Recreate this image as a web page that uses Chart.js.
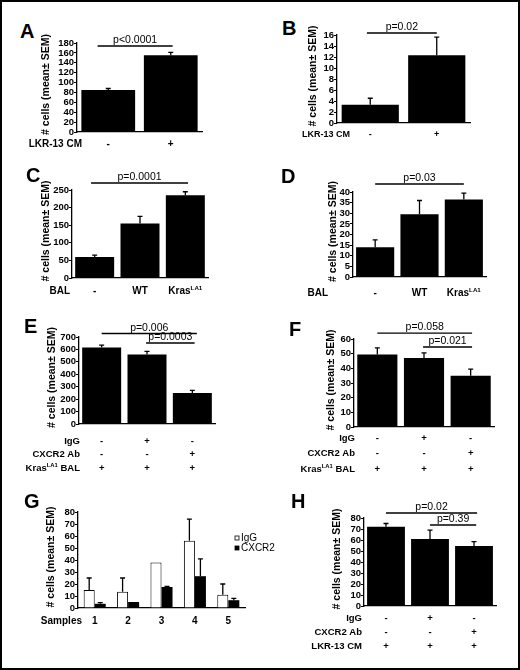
<!DOCTYPE html>
<html>
<head>
<meta charset="utf-8">
<script src="https://cdn.jsdelivr.net/npm/chart.js@4.4.1/dist/chart.umd.min.js"></script>
<style>
  body { margin: 0; background: #fff; }
  #fig { position: relative; width: 520px; height: 670px; overflow: hidden; }
  #frame { position: absolute; left: 0; top: 0; width: 520px; height: 670px; box-sizing: border-box; border: 2px solid #000; }
  .letter { position: absolute; font: bold 20px "Liberation Sans", Arial, sans-serif; line-height: 20px; }
  canvas { position: absolute; }
</style>
</head>
<body>
<div id="fig"><div id="frame"></div></div>
<script>
const FONT = '"Liberation Sans", Arial, sans-serif';

// data
const aCats = ['-', '+'];
const aMean = [85, 155];
const aSem = [3, 6];

const bCats = ['-', '+'];
const bMean = [3.3, 12.3];
const bSem = [1.2, 3.3];

const cCats = ['-', 'WT', 'Kras{LA1}'];
const cMean = [60, 155, 235];
const cSem = [5, 20, 10];

const dCats = ['-', 'WT', 'Kras{LA1}'];
const dMean = [14, 29.5, 36.5];
const dSem = [3.5, 6.5, 3];

const eIgG = ['-', '+', '-'];
const eCxcr2 = ['-', '-', '+'];
const eKras = ['+', '+', '+'];
const eMean = [615, 560, 250];
const eSem = [20, 25, 20];

const fIgG = ['-', '+', '-'];
const fCxcr2 = ['-', '-', '+'];
const fKras = ['+', '+', '+'];
const fMean = [49.5, 47, 35];
const fSem = [4.5, 3.5, 4.5];

const gSamples = ['1', '2', '3', '4', '5'];
const gIgG = [15, 13.5, 38, 56, 11];
const gIgGSem = [10, 11.5, 0, 18, 9];
const gCxcr2 = [3.5, 5, 17.5, 26.5, 6.5];
const gCxcr2Sem = [1, 0, 0.5, 14.5, 1.5];

const hIgG = ['-', '+', '-'];
const hCxcr2 = ['-', '-', '+'];
const hLkr = ['+', '+', '+'];
const hMean = [72, 61, 54.5];
const hSem = [3, 8, 4];

// text with {..} parts drawn as superscript
function drawRich(ctx, text, x, y, align, size, weight) {
  const parts = text.split(/(\{[^}]*\})/).filter(Boolean)
    .map(t => t[0] === '{' ? { t: t.slice(1, -1), sup: true } : { t, sup: false });
  const font = s => weight + ' ' + s + 'px ' + FONT;
  let w = 0;
  parts.forEach(p => {
    ctx.font = font(p.sup ? size * 0.62 : size);
    p.w = ctx.measureText(p.t).width;
    w += p.w;
  });
  let cx = align === 'right' ? x - w : align === 'center' ? x - w / 2 : x;
  ctx.textAlign = 'left';
  ctx.textBaseline = 'middle';
  parts.forEach(p => {
    ctx.font = font(p.sup ? size * 0.62 : size);
    ctx.fillText(p.t, cx, p.sup ? y - size * 0.3 : y);
    cx += p.w;
  });
}

const errorBars = {
  id: 'errorBars',
  afterDatasetsDraw(chart) {
    const ctx = chart.ctx, ys = chart.scales.y;
    ctx.save();
    ctx.strokeStyle = '#000';
    ctx.lineWidth = 1.3;
    chart.data.datasets.forEach((ds, i) => {
      chart.getDatasetMeta(i).data.forEach((bar, j) => {
        const s = ds.sem[j];
        if (!s) return;
        const top = ys.getPixelForValue(ds.data[j] + s);
        ctx.beginPath();
        ctx.moveTo(bar.x, bar.y);
        ctx.lineTo(bar.x, top);
        ctx.moveTo(bar.x - 2.5, top);
        ctx.lineTo(bar.x + 2.5, top);
        ctx.stroke();
      });
    });
    ctx.restore();
  }
};

function annotate(p, left, top) {
  return {
    id: 'annotate',
    afterDraw(chart) {
      const ctx = chart.ctx, xs = chart.scales.x, ys = chart.scales.y, area = chart.chartArea;
      ctx.save();
      ctx.fillStyle = '#000';
      ctx.strokeStyle = '#000';

      ctx.save();
      ctx.translate(p.titleX - left, (area.top + area.bottom) / 2 - 3);
      ctx.rotate(-Math.PI / 2);
      ctx.font = 'bold 10.5px ' + FONT;
      ctx.textAlign = 'center';
      ctx.textBaseline = 'middle';
      ctx.fillText('# cells (mean\u00b1 SEM)', 0, 0);
      ctx.restore();

      p.rows.forEach(r => {
        const ry = area.bottom + r.dy;
        drawRich(ctx, r.name, p.nameX - left, ry, 'right', p.rowFont, 'bold');
        r.vals.forEach((v, i) => drawRich(ctx, v, xs.getPixelForValue(i), ry, 'center', p.rowFont, 'bold'));
      });

      (p.pvals || []).forEach(pv => {
        const py = ys.getPixelForValue(pv.y);
        const x1 = xs.getPixelForValue(pv.from), x2 = xs.getPixelForValue(pv.to);
        ctx.lineWidth = 1.4;
        ctx.beginPath();
        ctx.moveTo(x1, py);
        ctx.lineTo(x2, py);
        ctx.stroke();
        ctx.font = '10.5px ' + FONT;
        ctx.textAlign = 'center';
        ctx.textBaseline = 'bottom';
        ctx.fillText(pv.text, (x1 + x2) / 2, py - 0.5);
      });

      if (p.legend) {
        chart.data.datasets.forEach((ds, i) => {
          const lx = p.legend.x - left, ly = p.legend.y - top + i * p.legend.dy;
          ctx.fillStyle = ds.backgroundColor;
          ctx.fillRect(lx - 2, ly - 2, 4, 4);
          ctx.lineWidth = 0.8;
          ctx.strokeRect(lx - 2, ly - 2, 4, 4);
          ctx.fillStyle = '#000';
          ctx.font = '10px ' + FONT;
          ctx.textAlign = 'left';
          ctx.textBaseline = 'middle';
          ctx.fillText(ds.label, lx + 4, ly);
        });
      }
      ctx.restore();
    }
  };
}

const black = (data, sem) => ({ data, sem, backgroundColor: '#000' });

const panels = [
  { letter: 'A', lx: 20, ly: 21, area: [77, 43, 202, 132], yMax: 180, yStep: 20, titleX: 46,
    labels: aCats, datasets: [black(aMean, aSem)], nameX: 82, rowFont: 10,
    rows: [{ name: 'LKR-13 CM', vals: aCats, dy: 12 }],
    pvals: [{ text: 'p<0.0001', from: -0.17, to: 1.03, y: 174 }] },
  { letter: 'B', lx: 282, ly: 18, area: [337, 35, 470, 123], yMax: 16, yStep: 2, titleX: 313,
    labels: bCats, datasets: [black(bMean, bSem)], nameX: 350, rowFont: 9,
    rows: [{ name: 'LKR-13 CM', vals: bCats, dy: 12 }],
    pvals: [{ text: 'p=0.02', from: -0.05, to: 1.0, y: 16.36 }] },
  { letter: 'C', lx: 26, ly: 165, area: [72, 190, 208, 278], yMax: 250, yStep: 50, titleX: 46,
    labels: cCats, datasets: [black(cMean, cSem)], nameX: 70, rowFont: 10,
    rows: [{ name: 'BAL', vals: cCats, dy: 13 }],
    pvals: [{ text: 'p=0.0001', from: -0.08, to: 2.06, y: 270 }] },
  { letter: 'D', lx: 281, ly: 166, area: [353, 192, 486, 277], yMax: 40, yStep: 5, titleX: 333,
    labels: dCats, datasets: [black(dMean, dSem)], nameX: 328, rowFont: 10,
    rows: [{ name: 'BAL', vals: dCats, dy: 16 }],
    pvals: [{ text: 'p=0.03', from: 0, to: 2, y: 43.8 }] },
  { letter: 'E', lx: 24, ly: 316, area: [79, 337, 215, 424], yMax: 700, yStep: 100, titleX: 52,
    labels: eIgG, datasets: [black(eMean, eSem)], nameX: 80, rowFont: 9.5,
    rows: [{ name: 'IgG', vals: eIgG, dy: 17 }, { name: 'CXCR2 Ab', vals: eCxcr2, dy: 30 },
           { name: 'Kras{LA1} BAL', vals: eKras, dy: 44 }],
    pvals: [{ text: 'p=0.006', from: 0, to: 2.1, y: 728 }, { text: 'p=0.0003', from: 0.98, to: 2.05, y: 652 }] },
  { letter: 'F', lx: 289, ly: 319, area: [354, 339, 494, 427], yMax: 60, yStep: 10, titleX: 331,
    labels: fIgG, datasets: [black(fMean, fSem)], nameX: 355, rowFont: 9.5,
    rows: [{ name: 'IgG', vals: fIgG, dy: 11 }, { name: 'CXCR2 Ab', vals: fCxcr2, dy: 26 },
           { name: 'Kras{LA1} BAL', vals: fKras, dy: 42 }],
    pvals: [{ text: 'p=0.058', from: 0, to: 2.03, y: 64 }, { text: 'p=0.021', from: 0.98, to: 2.03, y: 54.5 }] },
  { letter: 'G', lx: 24, ly: 491, area: [78, 512, 245, 608], yMax: 80, yStep: 10, titleX: 51,
    labels: gSamples, catPct: 0.66, barPct: 1, nameX: 82, rowFont: 10,
    datasets: [
      { label: 'IgG', data: gIgG, sem: gIgGSem, backgroundColor: '#fff', borderColor: '#000', borderWidth: 1 },
      { label: 'CXCR2', data: gCxcr2, sem: gCxcr2Sem, backgroundColor: '#000' }
    ],
    rows: [{ name: 'Samples', vals: gSamples, dy: 13 }],
    legend: { x: 237, y: 538, dy: 10 } },
  { letter: 'H', lx: 291, ly: 491, area: [364, 518, 496, 606], yMax: 80, yStep: 10, titleX: 337,
    labels: hIgG, datasets: [black(hMean, hSem)], nameX: 362, rowFont: 9.5,
    rows: [{ name: 'IgG', vals: hIgG, dy: 12 }, { name: 'CXCR2 Ab', vals: hCxcr2, dy: 26 },
           { name: 'LKR-13 CM', vals: hLkr, dy: 40 }],
    pvals: [{ text: 'p=0.02', from: 0, to: 2.07, y: 84.5 }, { text: 'p=0.39', from: 1.0, to: 2.05, y: 73.6 }] }
];

const fig = document.getElementById('fig');
panels.forEach(p => {
  const [x0, y0, x1, y1] = p.area;
  const padL = 75, padT = 30, padB = 55, padR = p.legend ? 48 : 8;
  const left = x0 - padL, top = y0 - padT;
  const w = x1 - left + padR, h = y1 - top + padB;

  const letter = document.createElement('div');
  letter.className = 'letter';
  letter.style.left = p.lx + 'px';
  letter.style.top = p.ly + 'px';
  letter.textContent = p.letter;
  fig.appendChild(letter);

  const canvas = document.createElement('canvas');
  canvas.width = w;
  canvas.height = h;
  canvas.style.left = left + 'px';
  canvas.style.top = top + 'px';
  canvas.style.width = w + 'px';
  canvas.style.height = h + 'px';
  fig.appendChild(canvas);

  p.datasets.forEach(ds => {
    ds.barPercentage = p.barPct || 0.86;
    ds.categoryPercentage = p.catPct || 1;
  });

  new Chart(canvas.getContext('2d'), {
    type: 'bar',
    data: { labels: p.labels, datasets: p.datasets },
    options: {
      responsive: false,
      animation: false,
      layout: { padding: { left: 0, top: padT, right: padR, bottom: 0 } },
      plugins: { legend: { display: false }, tooltip: { enabled: false } },
      scales: {
        x: {
          grid: { display: false },
          border: { display: true, color: '#000', width: 1.3 },
          ticks: { display: false },
          afterFit(s) { s.height = padB; }
        },
        y: {
          min: 0,
          max: p.yMax,
          ticks: { stepSize: p.yStep, autoSkip: false, color: '#000', padding: 0,
                   font: { family: FONT, size: 9.5, weight: 'bold', lineHeight: 1 } },
          grid: { drawOnChartArea: false, drawTicks: true, tickLength: 3, color: '#000' },
          border: { color: '#000', width: 1.3 },
          afterFit(s) { s.width = padL; }
        }
      }
    },
    plugins: [errorBars, annotate(p, left, top)]
  });
});
</script>
</body>
</html>
